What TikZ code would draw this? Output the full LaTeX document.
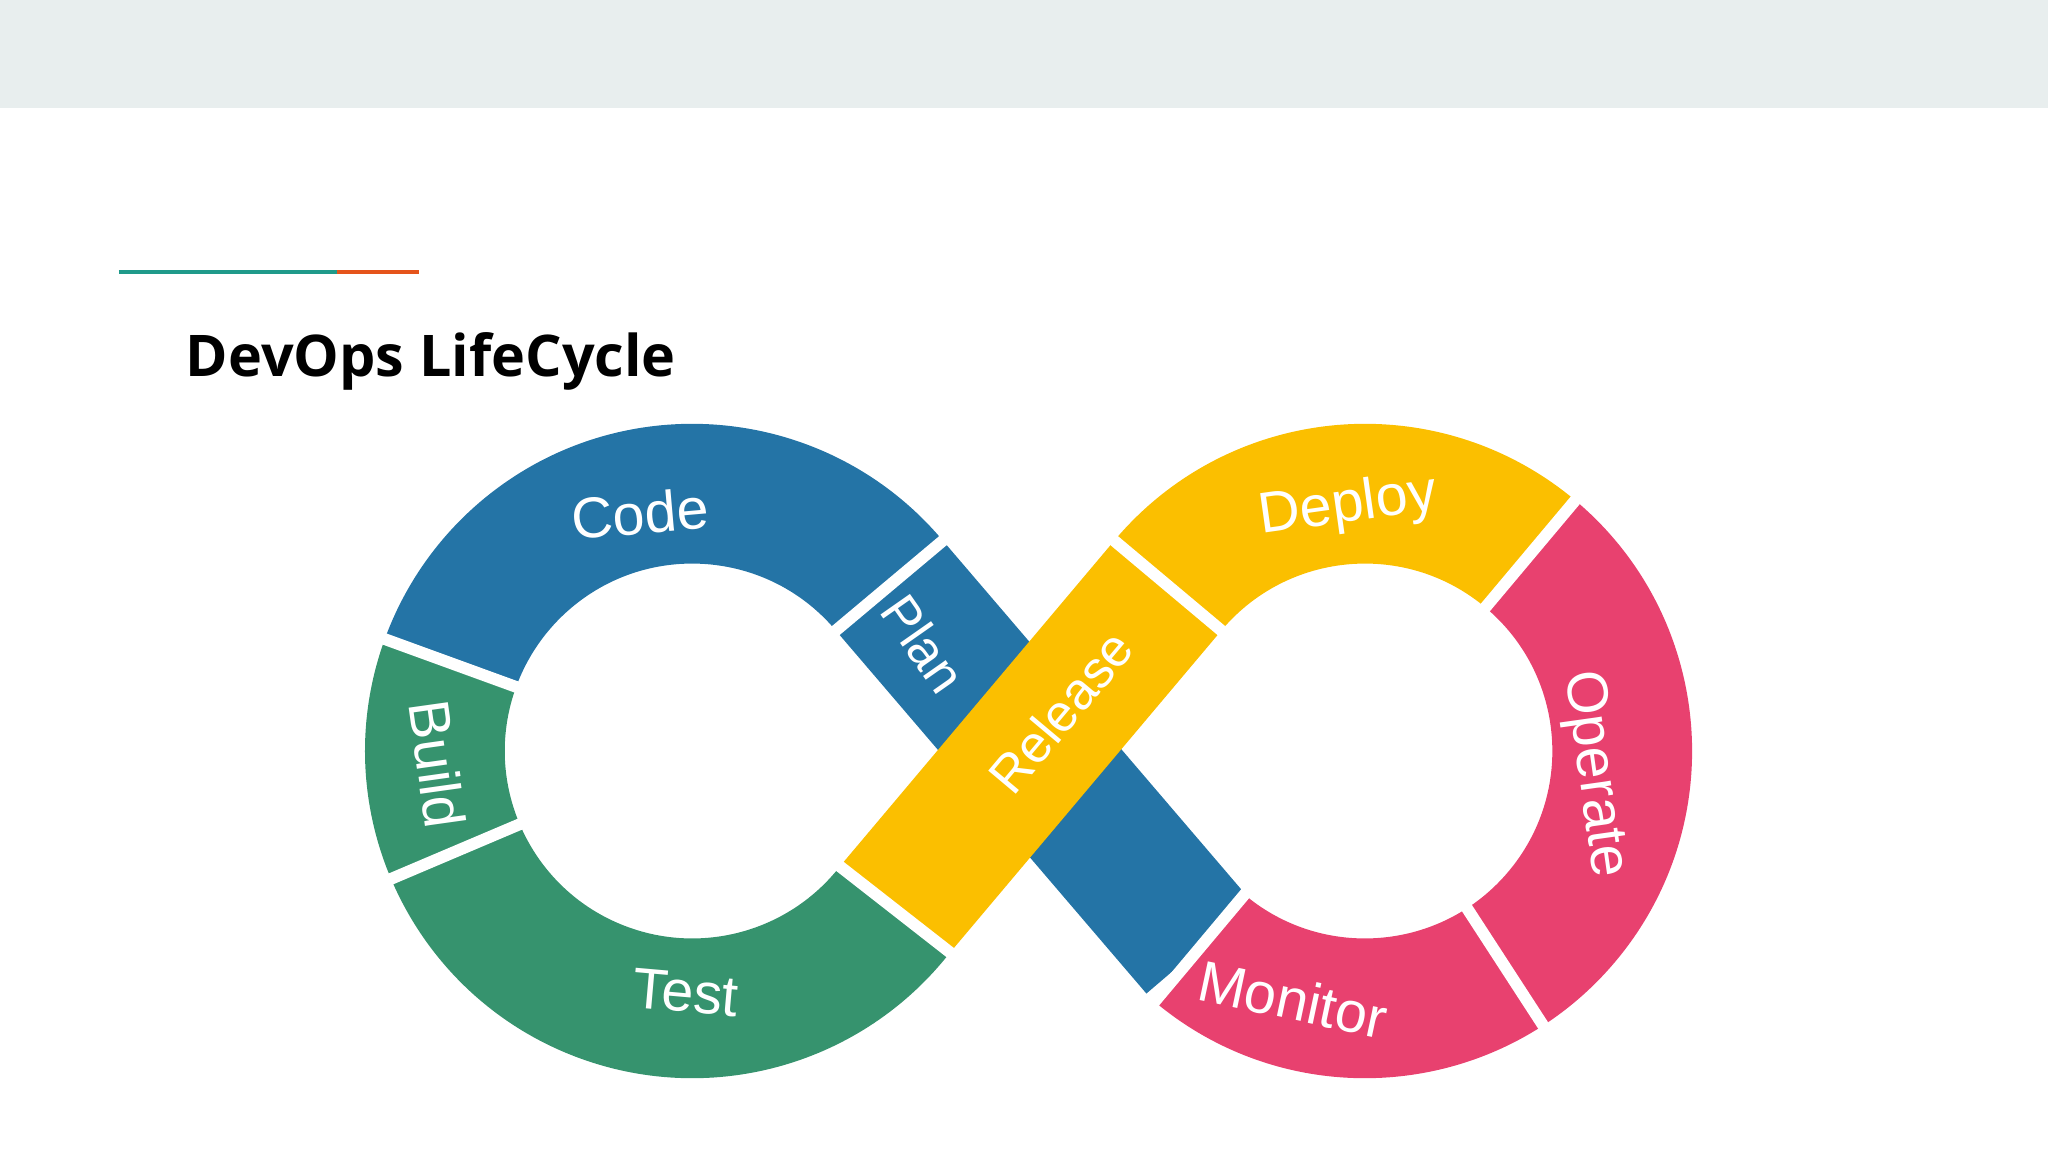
\documentclass[tikz,border=0pt]{standalone}
\usepackage{fontspec}
\setmainfont{Liberation Sans}
\newfontfamily\titlefont{Open Sans}
\usetikzlibrary{calc}
\definecolor{cblue}{HTML}{2474A6}
\definecolor{cgreen}{HTML}{36936E}
\definecolor{cyellow}{HTML}{FBBF00}
\definecolor{cpink}{HTML}{E8416F}
\definecolor{band}{HTML}{E8EEEE}
\definecolor{teal}{HTML}{1F9A8A}
\definecolor{orng}{HTML}{E5541B}
\begin{document}
\begin{tikzpicture}[x=1pt,y=1pt,
  seg/.style={line width=107pt},
  sep/.style={white,line width=9pt},
  lbl/.style={white,font=\fontsize{44}{48}\selectfont,inner sep=0pt}]
\useasboundingbox (0,0) rectangle (1568,882);
\fill[band] (0,799) rectangle (1568,882);
\draw[teal,line width=3pt] (91,674) -- (258,674);
\draw[orng,line width=3pt] (258,674) -- (321,674);
\node[anchor=base west,inner sep=0pt,font=\titlefont\bfseries\fontsize{44}{48}\selectfont] (title) at (142,594) {DevOps LifeCycle};
\coordinate (C1) at (530,307);
\coordinate (C2) at (1045,307);
% left loop
\draw[seg,cblue] ($(C1)+(40:197)$) arc[start angle=40,end angle=160,radius=197];
\draw[seg,cgreen] ($(C1)+(160:197)$) arc[start angle=160,end angle=322,radius=197];
% blue crossing
\draw[seg,cblue] ($(C1)+(40:197)$) -- ($(C2)+(-130:197)$);
% right loop
\draw[seg,cyellow] ($(C2)+(140:197)$) arc[start angle=140,end angle=50,radius=197];
\draw[seg,cpink] ($(C2)+(50:197)$) arc[start angle=50,end angle=-130,radius=197];
% yellow crossing
\draw[seg,cyellow] ($(C1)+(-38:197)$) -- ($(C2)+(140:197)$);
% separators
\foreach \a in {160,203,40,-38}{\draw[sep] ($(C1)+(\a:140)$) -- ($(C1)+(\a:256)$);}
\foreach \a in {140,50,-57,-130}{\draw[sep] ($(C2)+(\a:140)$) -- ($(C2)+(\a:256)$);}
% labels
\node[lbl,rotate=5] (code) at (490,489) {Code};
\node[lbl,rotate=-82] (build) at (335,297) {Build};
\node[lbl,rotate=-5] (test) at (525,122) {Test};
\node[lbl,rotate=-55,font=\fontsize{40}{44}\selectfont] (plan) at (707,389) {Plan};
\node[lbl,rotate=50,font=\fontsize{40}{44}\selectfont] (release) at (812,337) {Release};
\node[lbl,rotate=8] (deploy) at (1032,494) {Deploy};
\node[lbl,rotate=-82] (operate) at (1220,289) {Operate};
\node[lbl,rotate=-12] (monitor) at (990,117) {Monitor};
\end{tikzpicture}
\end{document}
